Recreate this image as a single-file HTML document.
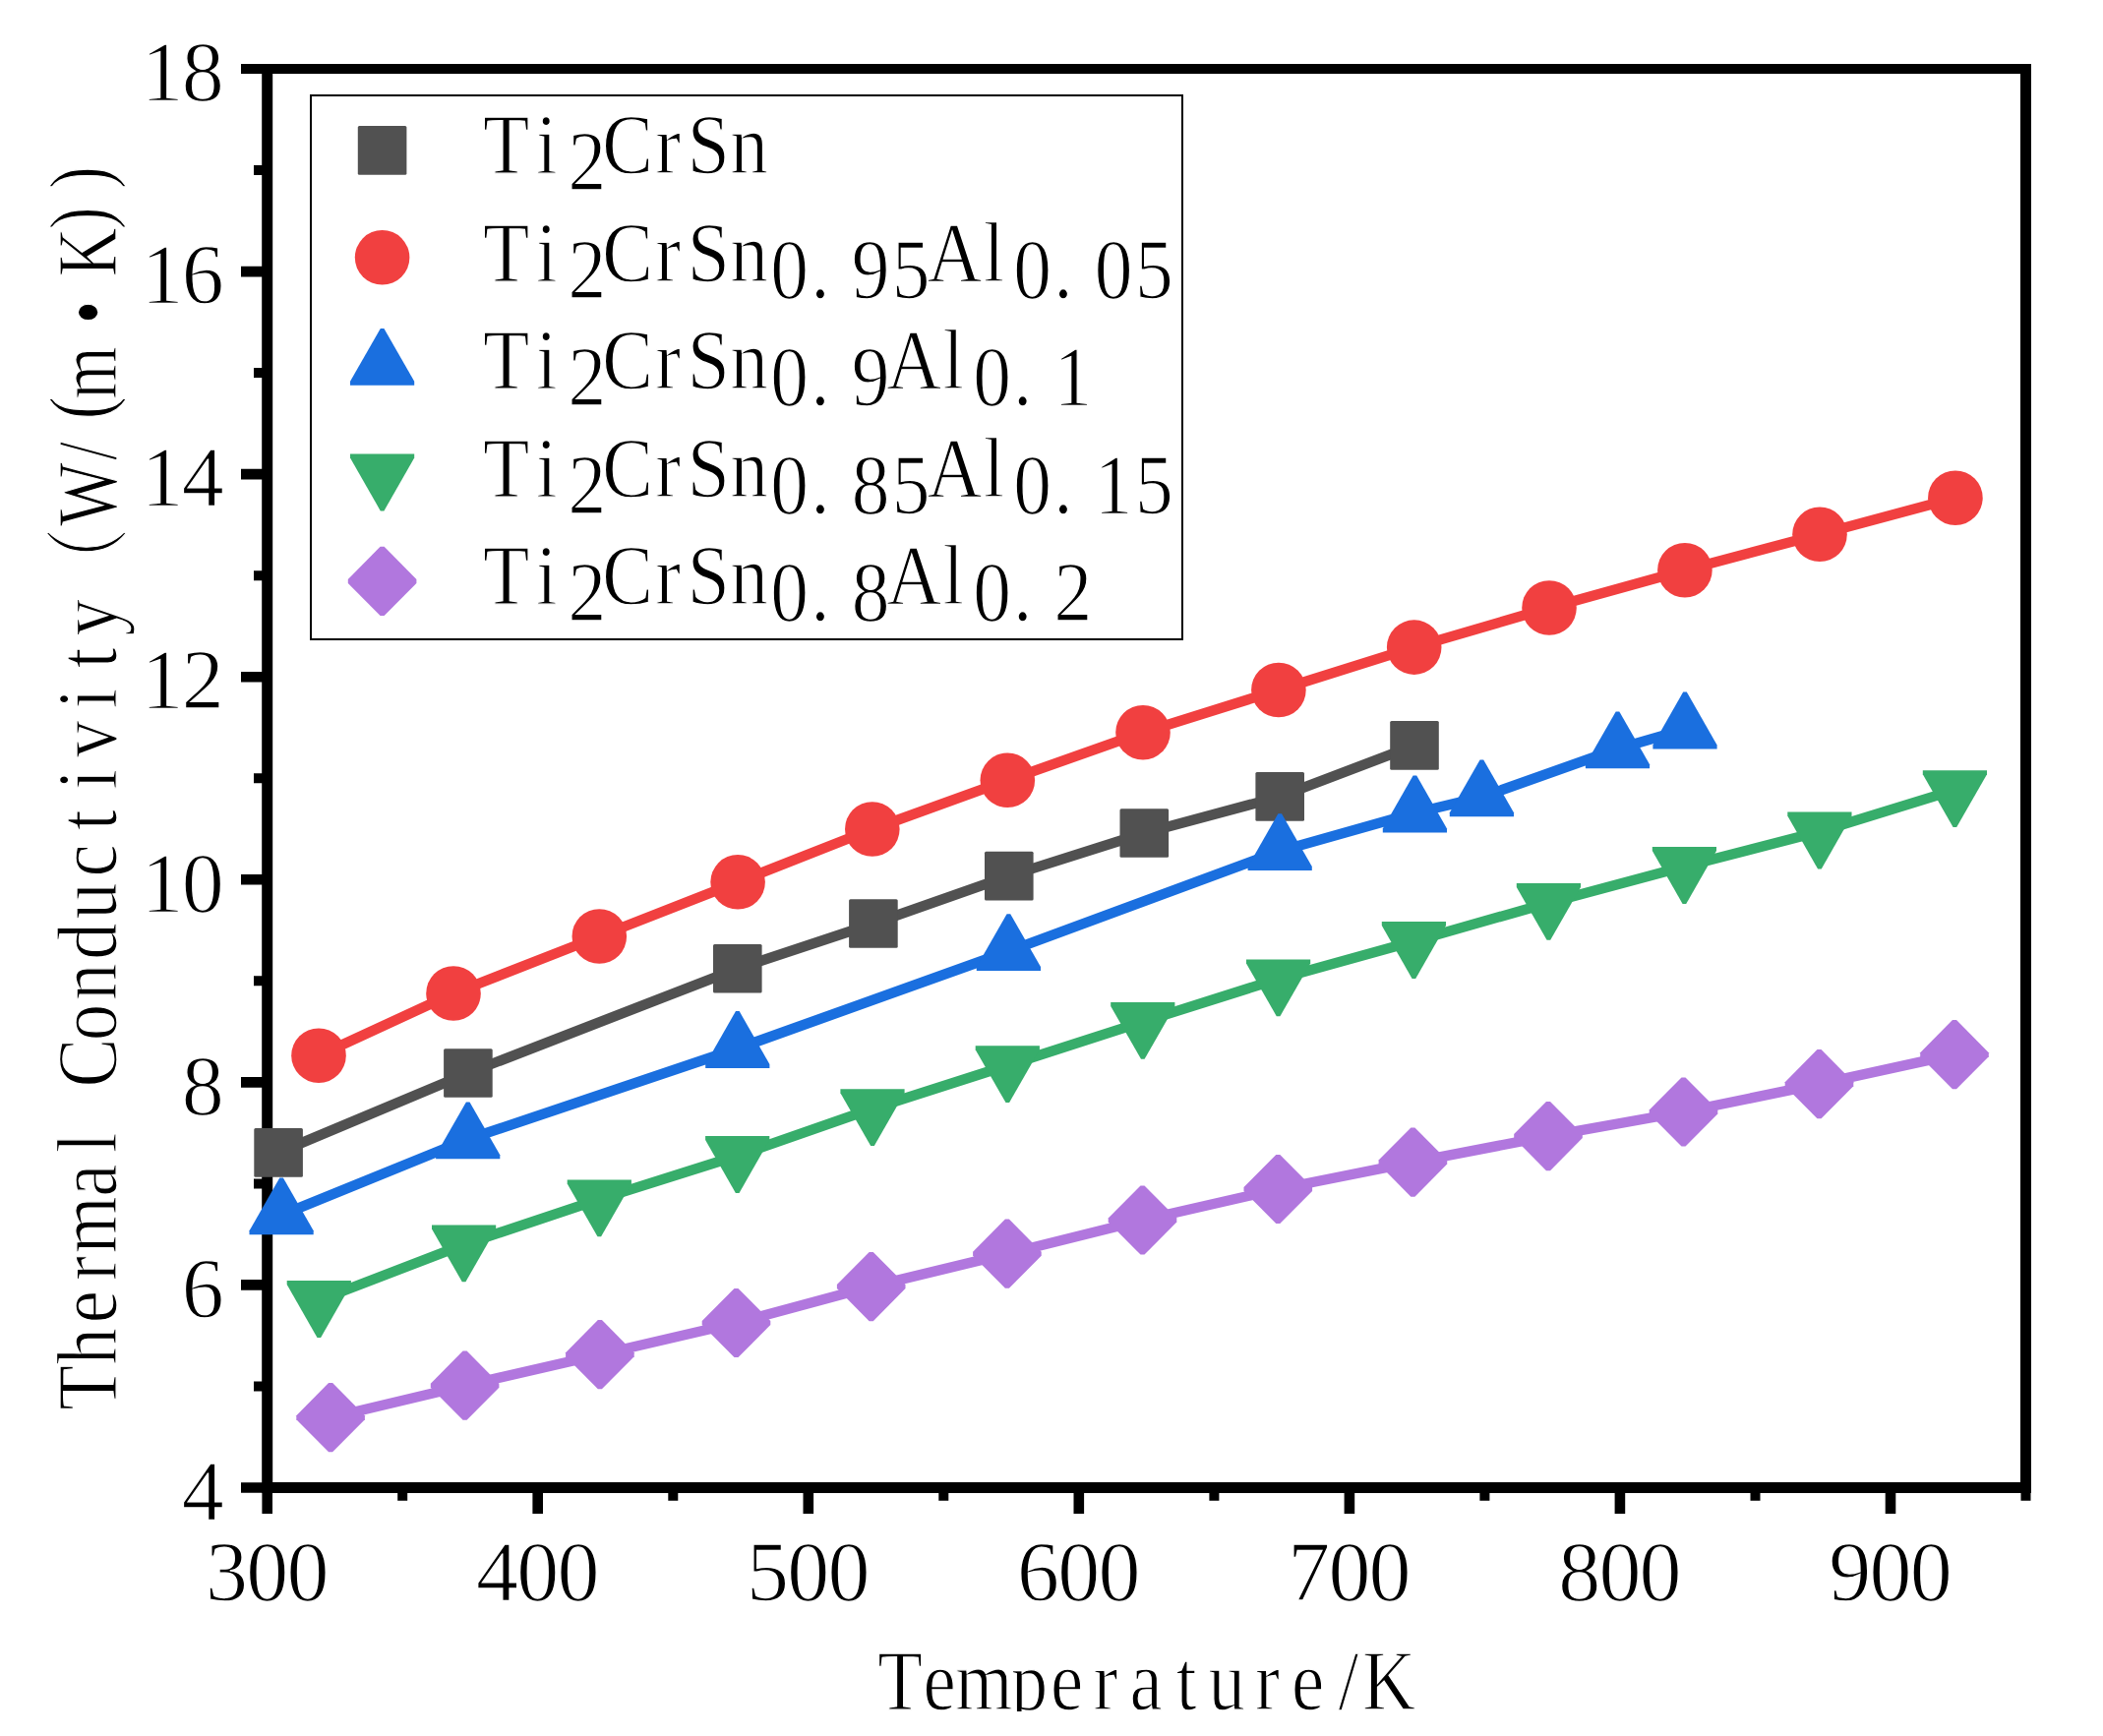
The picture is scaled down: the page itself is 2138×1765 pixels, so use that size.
<!DOCTYPE html>
<html lang="en">
<head>
<meta charset="utf-8">
<title>Thermal Conductivity vs Temperature</title>
<style>
html,body{margin:0;padding:0;background:#fff}
body{width:2138px;height:1765px;overflow:hidden}
svg{display:block}
text{font-family:"Liberation Serif","Noto Serif CJK SC",serif;font-size:86px;fill:#000;stroke:#fff;stroke-width:1.3px}
</style>
</head>
<body>
<svg width="2138" height="1765" viewBox="0 0 2138 1765">
<rect width="2138" height="1765" fill="#fff"/>
<g stroke="#000" fill="none" stroke-linecap="butt">
<path stroke-width="11" d="M271.7 65 V1518 M2059.5 65 V1518 M266.2 1512.5 H2065"/>
<path stroke-width="10" d="M245 70 H2065"/>
<path stroke-width="10.6" d="M245 1512.5 H268 M245 1306.4 H268 M245 1100.4 H268 M245 894.3 H268 M245 688.2 H268 M245 482.1 H268 M245 276.1 H268"/>
<path stroke-width="10" d="M258 1409.5 H268 M258 1203.4 H268 M258 997.3 H268 M258 791.2 H268 M258 585.2 H268 M258 379.1 H268 M258 173 H268"/>
<path stroke-width="10.6" d="M271.7 1516 V1539 M546.7 1516 V1539 M821.8 1516 V1539 M1096.8 1516 V1539 M1371.9 1516 V1539 M1646.9 1516 V1539 M1922 1516 V1539"/>
<path stroke-width="10" d="M409.2 1516 V1525.8 M684.3 1516 V1525.8 M959.3 1516 V1525.8 M1234.4 1516 V1525.8 M1509.4 1516 V1525.8 M1784.5 1516 V1525.8 M2059.5 1516 V1525.8"/>
</g>
<g text-anchor="middle">
<text x="230.5 271.7 312.9" y="1627.2">300</text>
<text x="505.5 546.7 587.9" y="1627.2">400</text>
<text x="780.6 821.8 863" y="1627.2">500</text>
<text x="1055.6 1096.8 1138" y="1627.2">600</text>
<text x="1330.7 1371.9 1413.1" y="1627.2">700</text>
<text x="1605.7 1646.9 1688.1" y="1627.2">800</text>
<text x="1880.8 1922 1963.2" y="1627.2">900</text>

<text x="206.3" y="1544.7">4</text>
<text x="206.3" y="1338.6">6</text>
<text x="206.3" y="1132.6">8</text>
<text x="165.1 206.3" y="926.5">10</text>
<text x="165.1 206.3" y="720.4">12</text>
<text x="165.1 206.3" y="514.3">14</text>
<text x="165.1 206.3" y="308.3">16</text>
<text x="165.1 206.3" y="102.2">18</text>

</g>
<text transform="scale(0.87,1)" text-anchor="middle" y="1738" x="1051.7 1097.9 1149.8 1202.9 1246.8 1291.8 1339.1 1386.4 1433.7 1481.1 1528.4 1575.7 1623">Temperature/K</text>
<text transform="translate(118.3 0) rotate(-90) scale(0.87,1)" text-anchor="middle" y="0" x="-1621.8 -1573.4 -1527.2 -1482.2 -1431.4 -1379.5 -1335.6 -1289.4 -1242.1 -1194.8 -1147.5 -1100.1 -1052.8 -1005.5 -958.2 -910.9 -863.5 -816.2 -768.9 -721.6">Thermal Conductivity</text>
<text transform="translate(118.3 0) rotate(-90) scale(0.8,1)" text-anchor="middle" x="-713.8 -628.2 -573.1 -518.6 -473.8 -396.9 -320.6 -277.2 -225.7" y="2.5 0 0 -8 0 0 0 -8 -8">（W/(m•K))</text>
<g fill="#515151" stroke="none">
<polyline fill="none" stroke="#515151" stroke-width="10.4" stroke-linejoin="round" points="283.1,1171.9 475.9,1091 749.8,984.8 887.9,939 1025.8,890.6 1163.3,847 1301.2,809.9 1438,757.9"/>
<rect x="258.3" y="1147.1" width="49.6" height="49.6" rx="1.5"/><rect x="451.1" y="1066.2" width="49.6" height="49.6" rx="1.5"/><rect x="725" y="960" width="49.6" height="49.6" rx="1.5"/><rect x="863.1" y="914.2" width="49.6" height="49.6" rx="1.5"/><rect x="1001" y="865.8" width="49.6" height="49.6" rx="1.5"/><rect x="1138.5" y="822.2" width="49.6" height="49.6" rx="1.5"/><rect x="1276.4" y="785.1" width="49.6" height="49.6" rx="1.5"/><rect x="1413.2" y="733.1" width="49.6" height="49.6" rx="1.5"/>
</g>
<g fill="#F14040" stroke="none">
<polyline fill="none" stroke="#F14040" stroke-width="10.4" stroke-linejoin="round" points="324,1073.2 461,1010 609.3,952 750.1,896.8 886.8,843 1024.3,793.3 1162,744.7 1299.9,701.5 1437.7,658.1 1575,618 1712.9,579.7 1850,543.3 1987.9,506.2"/>
<circle cx="324" cy="1073.2" r="27.8"/><circle cx="461" cy="1010" r="27.8"/><circle cx="609.3" cy="952" r="27.8"/><circle cx="750.1" cy="896.8" r="27.8"/><circle cx="886.8" cy="843" r="27.8"/><circle cx="1024.3" cy="793.3" r="27.8"/><circle cx="1162" cy="744.7" r="27.8"/><circle cx="1299.9" cy="701.5" r="27.8"/><circle cx="1437.7" cy="658.1" r="27.8"/><circle cx="1575" cy="618" r="27.8"/><circle cx="1712.9" cy="579.7" r="27.8"/><circle cx="1850" cy="543.3" r="27.8"/><circle cx="1987.9" cy="506.2" r="27.8"/>
</g>
<g fill="#1A6FDF" stroke="none">
<polyline fill="none" stroke="#1A6FDF" stroke-width="10.4" stroke-linejoin="round" points="286.1,1235.4 475.7,1158.3 749.8,1066 1025.4,967.2 1301.2,865.2 1438.4,826.5 1506.4,810.4 1644.5,761.3 1713,741.5"/>
<polygon points="284.3,1197.5 287.9,1197.5 318.7,1251.3 318.7,1255.3 253.5,1255.3 253.5,1251.3"/><polygon points="473.9,1120.4 477.5,1120.4 508.3,1174.2 508.3,1178.2 443.1,1178.2 443.1,1174.2"/><polygon points="748,1028.1 751.6,1028.1 782.4,1081.9 782.4,1085.9 717.2,1085.9 717.2,1081.9"/><polygon points="1023.6,929.3 1027.2,929.3 1058,983.1 1058,987.1 992.8,987.1 992.8,983.1"/><polygon points="1299.4,827.3 1303,827.3 1333.8,881.1 1333.8,885.1 1268.6,885.1 1268.6,881.1"/><polygon points="1436.6,788.6 1440.2,788.6 1471,842.4 1471,846.4 1405.8,846.4 1405.8,842.4"/><polygon points="1504.6,772.5 1508.2,772.5 1539,826.3 1539,830.3 1473.8,830.3 1473.8,826.3"/><polygon points="1642.7,723.4 1646.3,723.4 1677.1,777.2 1677.1,781.2 1611.9,781.2 1611.9,777.2"/><polygon points="1711.2,703.6 1714.8,703.6 1745.6,757.4 1745.6,761.4 1680.4,761.4 1680.4,757.4"/>
</g>
<g fill="#37AD6B" stroke="none">
<polyline fill="none" stroke="#37AD6B" stroke-width="10.4" stroke-linejoin="round" points="324.3,1322 471.6,1265.4 609.3,1219.4 749.7,1175 887,1127.2 1024.3,1083.2 1161.8,1038.9 1299.6,995.3 1437.4,957 1574.4,917.9 1712.4,881 1849.9,845.5 1987.4,803.1"/>
<polygon points="322.5,1359.9 326.1,1359.9 356.9,1306.1 356.9,1302.1 291.7,1302.1 291.7,1306.1"/><polygon points="469.8,1303.3 473.4,1303.3 504.2,1249.5 504.2,1245.5 439,1245.5 439,1249.5"/><polygon points="607.5,1257.3 611.1,1257.3 641.9,1203.5 641.9,1199.5 576.7,1199.5 576.7,1203.5"/><polygon points="747.9,1212.9 751.5,1212.9 782.3,1159.1 782.3,1155.1 717.1,1155.1 717.1,1159.1"/><polygon points="885.2,1165.1 888.8,1165.1 919.6,1111.3 919.6,1107.3 854.4,1107.3 854.4,1111.3"/><polygon points="1022.5,1121.1 1026.1,1121.1 1056.9,1067.3 1056.9,1063.3 991.7,1063.3 991.7,1067.3"/><polygon points="1160,1076.8 1163.6,1076.8 1194.4,1023 1194.4,1019 1129.2,1019 1129.2,1023"/><polygon points="1297.8,1033.2 1301.4,1033.2 1332.2,979.4 1332.2,975.4 1267,975.4 1267,979.4"/><polygon points="1435.6,994.9 1439.2,994.9 1470,941.1 1470,937.1 1404.8,937.1 1404.8,941.1"/><polygon points="1572.6,955.8 1576.2,955.8 1607,902 1607,898 1541.8,898 1541.8,902"/><polygon points="1710.6,918.9 1714.2,918.9 1745,865.1 1745,861.1 1679.8,861.1 1679.8,865.1"/><polygon points="1848.1,883.4 1851.7,883.4 1882.5,829.6 1882.5,825.6 1817.3,825.6 1817.3,829.6"/><polygon points="1985.6,841 1989.2,841 2020,787.2 2020,783.2 1954.8,783.2 1954.8,787.2"/>
</g>
<g fill="#B177DE" stroke="none">
<polyline fill="none" stroke="#B177DE" stroke-width="10.4" stroke-linejoin="round" points="336.1,1441.2 472.6,1408.7 609.9,1377.2 748.5,1345 885.7,1308.1 1023.9,1274.7 1161.5,1240.5 1299.3,1209 1436.4,1181.6 1574,1155.1 1711.5,1130.5 1849.5,1102.2 1987,1072.2"/>
<polygon points="334.1,1406.1 338.1,1406.1 370.9,1439.2 370.9,1443.2 338.1,1476.3 334.1,1476.3 301.3,1443.2 301.3,1439.2"/><polygon points="470.6,1373.6 474.6,1373.6 507.4,1406.7 507.4,1410.7 474.6,1443.8 470.6,1443.8 437.8,1410.7 437.8,1406.7"/><polygon points="607.9,1342.1 611.9,1342.1 644.7,1375.2 644.7,1379.2 611.9,1412.3 607.9,1412.3 575.1,1379.2 575.1,1375.2"/><polygon points="746.5,1309.9 750.5,1309.9 783.3,1343 783.3,1347 750.5,1380.1 746.5,1380.1 713.7,1347 713.7,1343"/><polygon points="883.7,1273 887.7,1273 920.5,1306.1 920.5,1310.1 887.7,1343.2 883.7,1343.2 850.9,1310.1 850.9,1306.1"/><polygon points="1021.9,1239.6 1025.9,1239.6 1058.7,1272.7 1058.7,1276.7 1025.9,1309.8 1021.9,1309.8 989.1,1276.7 989.1,1272.7"/><polygon points="1159.5,1205.4 1163.5,1205.4 1196.3,1238.5 1196.3,1242.5 1163.5,1275.6 1159.5,1275.6 1126.7,1242.5 1126.7,1238.5"/><polygon points="1297.3,1173.9 1301.3,1173.9 1334.1,1207 1334.1,1211 1301.3,1244.1 1297.3,1244.1 1264.5,1211 1264.5,1207"/><polygon points="1434.4,1146.5 1438.4,1146.5 1471.2,1179.6 1471.2,1183.6 1438.4,1216.7 1434.4,1216.7 1401.6,1183.6 1401.6,1179.6"/><polygon points="1572,1120 1576,1120 1608.8,1153.1 1608.8,1157.1 1576,1190.2 1572,1190.2 1539.2,1157.1 1539.2,1153.1"/><polygon points="1709.5,1095.4 1713.5,1095.4 1746.3,1128.5 1746.3,1132.5 1713.5,1165.6 1709.5,1165.6 1676.7,1132.5 1676.7,1128.5"/><polygon points="1847.5,1067.1 1851.5,1067.1 1884.3,1100.2 1884.3,1104.2 1851.5,1137.3 1847.5,1137.3 1814.7,1104.2 1814.7,1100.2"/><polygon points="1985,1037.1 1989,1037.1 2021.8,1070.2 2021.8,1074.2 1989,1107.3 1985,1107.3 1952.2,1074.2 1952.2,1070.2"/>
</g>
<rect x="316" y="97" width="886" height="553" fill="#fff" stroke="#000" stroke-width="2"/>
<g fill="#515151"><rect x="363.8" y="128.1" width="49.6" height="49.6" rx="1.5"/></g>
<g fill="#F14040"><circle cx="388.6" cy="261.8" r="27.8"/></g>
<g fill="#1A6FDF"><polygon points="386.8,334 390.4,334 421.2,387.8 421.2,391.8 356,391.8 356,387.8"/></g>
<g fill="#37AD6B"><polygon points="386.8,519.4 390.4,519.4 421.2,465.6 421.2,461.6 356,461.6 356,465.6"/></g>
<g fill="#B177DE"><polygon points="386.6,555.8 390.6,555.8 423.4,588.9 423.4,592.9 390.6,626 386.6,626 353.8,592.9 353.8,588.9"/></g>
<text transform="scale(0.9,1)" text-anchor="middle" x="571.7 617.4 663.2 708.9 754.6 800.4 846.1" y="176.1 176.1 193.1 176.1 176.1 176.1 176.1">Ti2CrSn</text>
<text transform="scale(0.9,1)" text-anchor="middle" x="571.7 617.4 663.2 708.9 754.6 800.4 846.1 891.9 926.5 983.4 1029.1 1078.2 1122.8 1166.3 1201 1257.8 1303.6" y="285.6 285.6 302.6 285.6 285.6 285.6 285.6 302.6 302.6 302.6 302.6 285.6 285.6 302.6 302.6 302.6 302.6">Ti2CrSn0.95Al0.05</text>
<text transform="scale(0.9,1)" text-anchor="middle" x="571.7 617.4 663.2 708.9 754.6 800.4 846.1 891.9 926.5 983.4 1032.4 1077.1 1120.6 1155.2 1212.1" y="395.1 395.1 412.1 395.1 395.1 395.1 395.1 412.1 412.1 412.1 395.1 395.1 412.1 412.1 412.1">Ti2CrSn0.9Al0.1</text>
<text transform="scale(0.9,1)" text-anchor="middle" x="571.7 617.4 663.2 708.9 754.6 800.4 846.1 891.9 926.5 983.4 1029.1 1078.2 1122.8 1166.3 1201 1257.8 1303.6" y="504.6 504.6 521.6 504.6 504.6 504.6 504.6 521.6 521.6 521.6 521.6 504.6 504.6 521.6 521.6 521.6 521.6">Ti2CrSn0.85Al0.15</text>
<text transform="scale(0.9,1)" text-anchor="middle" x="571.7 617.4 663.2 708.9 754.6 800.4 846.1 891.9 926.5 983.4 1032.4 1077.1 1120.6 1155.2 1212.1" y="614.1 614.1 631.1 614.1 614.1 614.1 614.1 631.1 631.1 631.1 614.1 614.1 631.1 631.1 631.1">Ti2CrSn0.8Al0.2</text>
<rect x="0" y="1740" width="2138" height="25" fill="#fff"/>
</svg>
</body>
</html>
